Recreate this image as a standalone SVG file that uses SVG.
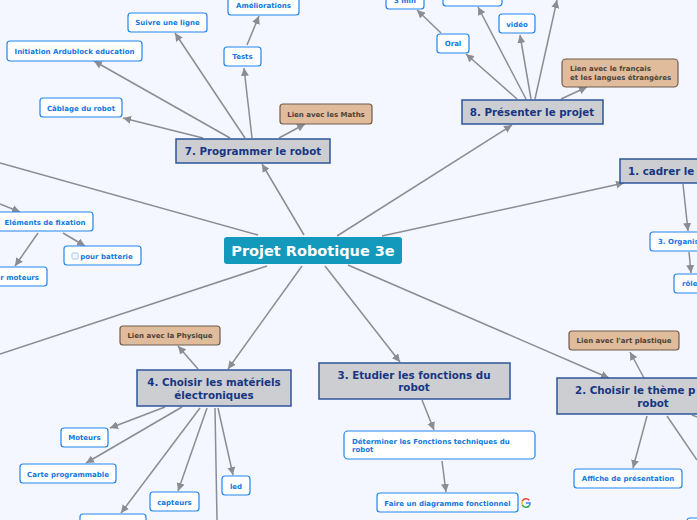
<svg xmlns="http://www.w3.org/2000/svg" width="697" height="520" viewBox="0 0 697 520">
<defs>
<marker id="a" markerUnits="userSpaceOnUse" markerWidth="9" markerHeight="8" refX="8" refY="4" orient="auto"><path d="M0 0L8 4L0 8Z" fill="#8b8c94"/></marker>
</defs>
<style>
text{font-family:"DejaVu Sans",sans-serif;font-weight:700}
.c line{stroke:#8b8c94;stroke-width:1.5;fill:none}
.c .h{marker-end:url(#a)}
.s rect{fill:#fff;stroke:#1f85ee;stroke-width:1.2}
.s text{font-size:7px;fill:#1177e0;text-anchor:middle}
.l rect{fill:#e0bb9c;stroke:#6f5d4c;stroke-width:1.2}
.l text{font-size:7px;fill:#4d4238;text-anchor:middle}
.m rect{fill:#cdced1;stroke:#2c5599;stroke-width:1.5}
.m text{font-size:10.300px;fill:#183684;text-anchor:middle}
</style>
<rect width="697" height="520" fill="#f4f7ff"/>
<g class="c" id="connectors">
<line class="h" x1="304" y1="235" x2="262" y2="164"/>
<line x1="258" y1="235" x2="0" y2="163"/>
<line class="h" x1="337" y1="236" x2="512" y2="125"/>
<line class="h" x1="382" y1="236" x2="624" y2="183"/>
<line x1="267" y1="266" x2="0" y2="354"/>
<line class="h" x1="302" y1="266" x2="228" y2="369"/>
<line class="h" x1="325" y1="266" x2="400" y2="362"/>
<line class="h" x1="348" y1="265" x2="609" y2="378"/>
<line class="h" x1="203" y1="138" x2="123" y2="118"/>
<line class="h" x1="230" y1="138" x2="94" y2="61"/>
<line class="h" x1="245" y1="138" x2="175" y2="33"/>
<line class="h" x1="252" y1="138" x2="244" y2="68"/>
<line class="h" x1="247" y1="45" x2="259" y2="16"/>
<line class="h" x1="279" y1="138" x2="305" y2="124"/>
<line class="h" x1="517" y1="99" x2="466" y2="54"/>
<line class="h" x1="526" y1="99" x2="478" y2="7"/>
<line class="h" x1="531" y1="99" x2="520" y2="35"/>
<line class="h" x1="535" y1="99" x2="557" y2="0"/>
<line class="h" x1="561" y1="99" x2="587" y2="87"/>
<line class="h" x1="441" y1="33" x2="417" y2="10"/>
<line class="h" x1="683" y1="184" x2="688" y2="231"/>
<line class="h" x1="689" y1="252" x2="691" y2="273"/>
<line class="h" x1="0" y1="204" x2="20" y2="212"/>
<line class="h" x1="63" y1="233" x2="85" y2="246"/>
<line class="h" x1="38" y1="233" x2="15" y2="266"/>
<line class="h" x1="198" y1="369" x2="178" y2="346"/>
<line class="h" x1="165" y1="407" x2="110" y2="428"/>
<line class="h" x1="182" y1="407" x2="86" y2="463"/>
<line class="h" x1="200" y1="408" x2="121" y2="513"/>
<line class="h" x1="207" y1="408" x2="178" y2="491"/>
<line x1="215" y1="408" x2="217" y2="520"/>
<line class="h" x1="218" y1="408" x2="233" y2="475"/>
<line class="h" x1="422" y1="400" x2="434" y2="430"/>
<line class="h" x1="442" y1="461" x2="446" y2="492"/>
<line class="h" x1="644" y1="378" x2="630" y2="352"/>
<line class="h" x1="647" y1="416" x2="633" y2="468"/>
<line x1="667" y1="416" x2="697" y2="460"/>
<line x1="692" y1="415" x2="697" y2="417"/>
</g>
<g id="root"><rect x="224" y="237" width="178" height="27" rx="3" fill="#1299bb"/><text x="313" y="256" font-size="14.500" fill="#fff" text-anchor="middle">Projet Robotique 3e</text></g>
<g id="n7" class="m"><rect x="176" y="139" width="154" height="24"/><text x="253" y="155">7. Programmer le robot</text></g>
<g id="n8" class="m"><rect x="462" y="100" width="141" height="24"/><text x="532" y="116">8. Présenter le projet</text></g>
<g id="n1" class="m"><rect x="620" y="159" width="90" height="24"/><text x="628" y="175" style="text-anchor:start">1. cadrer le</text></g>
<g id="n4" class="m"><rect x="137" y="370" width="154" height="36"/><text x="214" y="386">4. Choisir les matériels</text><text x="214" y="399">électroniques</text></g>
<g id="n3" class="m"><rect x="319" y="363" width="191" height="36"/><text x="414" y="379">3. Etudier les fonctions du</text><text x="414" y="391">robot</text></g>
<g id="n2" class="m"><rect x="557" y="378" width="160" height="36"/><text x="575" y="394" style="text-anchor:start">2. Choisir le thème p</text><text x="653" y="407">robot</text></g>
<g id="ameliorations" class="s"><rect x="228" y="-5" width="71" height="20" rx="3"/><text x="263.500" y="8">Améliorations</text></g>
<g id="suivre" class="s"><rect x="128" y="13" width="79" height="19" rx="3"/><text x="167.500" y="25">Suivre une ligne</text></g>
<g id="initiation" class="s"><rect x="7" y="41" width="135" height="20" rx="3"/><text x="74.500" y="54">Initiation Ardublock education</text></g>
<g id="tests" class="s"><rect x="224" y="47" width="37" height="19" rx="3"/><text x="242.500" y="59">Tests</text></g>
<g id="cablage" class="s"><rect x="40" y="98" width="82" height="19" rx="3"/><text x="81" y="111">Câblage du robot</text></g>
<g id="fixation" class="s"><rect x="-20" y="212" width="113" height="19" rx="3"/><text x="45" y="225">Eléments de fixation</text></g>
<g id="batterie" class="s"><rect x="64" y="246" width="77" height="19" rx="3"/><rect x="72" y="253" width="6" height="6" rx="1" style="fill:#f4f7ff;stroke:#a9c8ee;stroke-width:1"/><text x="106.500" y="259">pour batterie</text></g>
<g id="moteurs-fix" class="s"><rect x="-30" y="267" width="77" height="19" rx="3"/><text x="39" y="280" style="text-anchor:end">r moteurs</text></g>
<g id="oral" class="s"><rect x="437" y="34" width="32" height="19" rx="3"/><text x="453" y="46">Oral</text></g>
<g id="min" class="s"><rect x="386" y="-10" width="38" height="19" rx="3"/><text x="405" y="3">3 min</text></g>
<g id="blank8" class="s"><rect x="443" y="-14" width="59" height="20" rx="3"/></g>
<g id="video" class="s"><rect x="499" y="14" width="36" height="19" rx="3"/><text x="517" y="27">vidéo</text></g>
<g id="organis" class="s"><rect x="650" y="232" width="70" height="19" rx="3"/><text x="658" y="244" style="text-anchor:start">3. Organis</text></g>
<g id="role" class="s"><rect x="674" y="274" width="50" height="19" rx="3"/><text x="682" y="286" style="text-anchor:start">rôle</text></g>
<g id="moteurs" class="s"><rect x="61" y="428" width="47" height="19" rx="3"/><text x="84.500" y="440">Moteurs</text></g>
<g id="carte" class="s"><rect x="20" y="464" width="96" height="19" rx="3"/><text x="68" y="477">Carte programmable</text></g>
<g id="capteurs" class="s"><rect x="150" y="492" width="49" height="19" rx="3"/><text x="174.500" y="505">capteurs</text></g>
<g id="led" class="s"><rect x="222" y="476" width="28" height="19" rx="3"/><text x="236" y="489">led</text></g>
<g id="blank4" class="s"><rect x="80" y="514" width="66" height="16" rx="3"/></g>
<g id="determiner" class="s"><rect x="344" y="431" width="191" height="28" rx="4"/><text x="352" y="444" style="text-anchor:start">Déterminer les Fonctions techniques du</text><text x="352" y="452" style="text-anchor:start">robot</text></g>
<g id="faire" class="s"><rect x="377" y="493" width="141" height="19" rx="3"/><text x="447.500" y="506">Faire un diagramme fonctionnel</text></g>
<g id="google" fill="none" stroke-width="1.500"><path d="M529.200 500.200A4 4 0 0 0 522.400 501" stroke="#ea4335"/><path d="M522.400 501A4 4 0 0 0 522.400 505" stroke="#fbbc05"/><path d="M522.400 505A4 4 0 0 0 529.400 505.500" stroke="#34a853"/><path d="M526 503H530V504L529.400 505.500" stroke="#4285f4"/></g>
<g id="affiche" class="s"><rect x="574" y="469" width="108" height="19" rx="3"/><text x="628" y="481">Affiche de présentation</text></g>
<g id="blank2" class="s"><rect x="687" y="518" width="30" height="10" rx="3"/></g>
<g id="lien-maths" class="l"><rect x="280" y="104" width="92" height="20" rx="3"/><text x="326" y="117">Lien avec les Maths</text></g>
<g id="lien-fr" class="l"><rect x="562" y="59" width="116" height="28" rx="4"/><text x="570" y="71" style="text-anchor:start">Lien avec le français</text><text x="570" y="80" style="text-anchor:start">et les langues étrangères</text></g>
<g id="lien-phys" class="l"><rect x="120" y="326" width="100" height="19" rx="3"/><text x="170" y="338">Lien avec la Physique</text></g>
<g id="lien-art" class="l"><rect x="569" y="331" width="110" height="19" rx="3"/><text x="624" y="343">Lien avec l'art plastique</text></g>
</svg>
